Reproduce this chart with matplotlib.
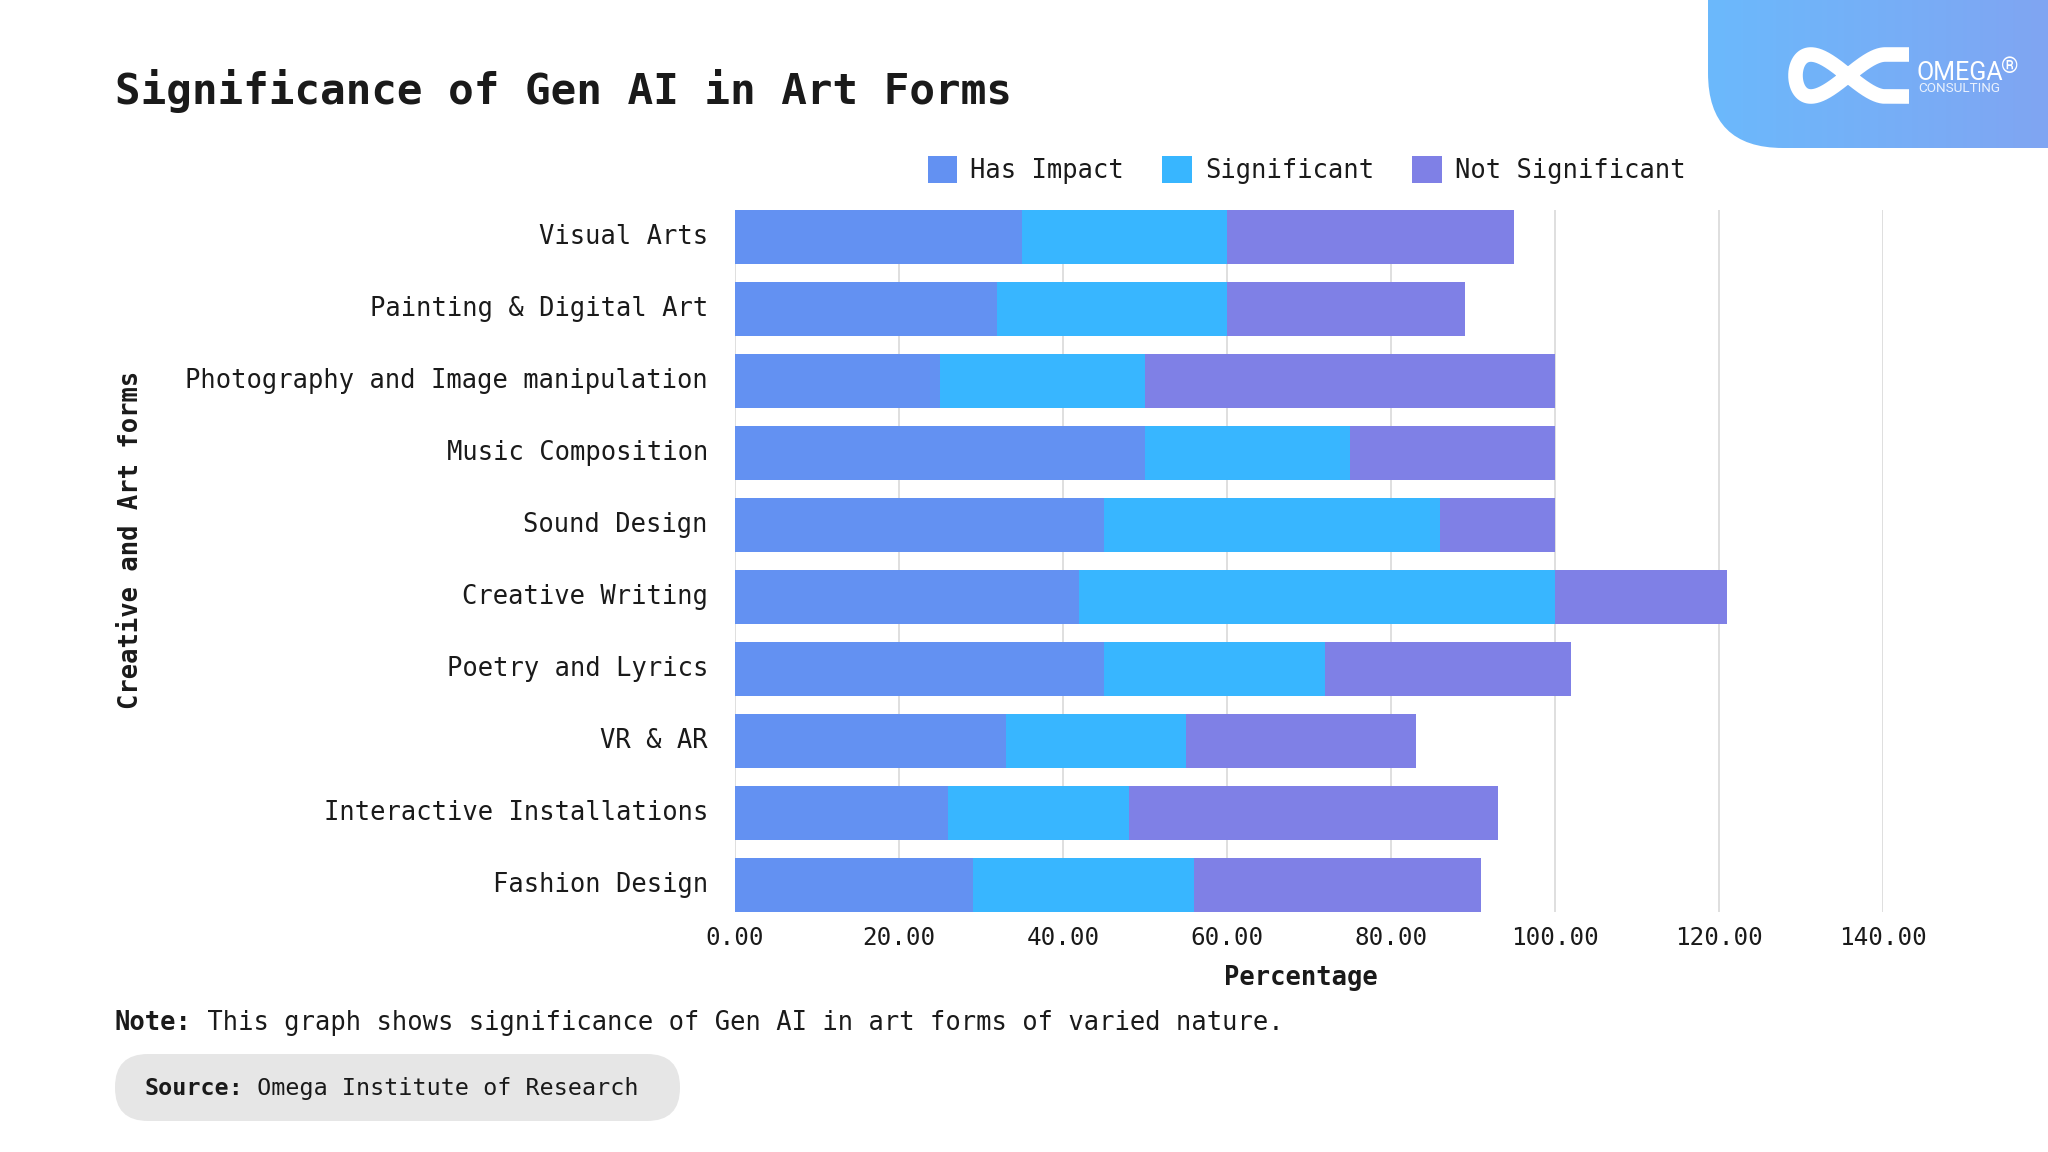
import numpy as np
import matplotlib
matplotlib.use("Agg")
import matplotlib.pyplot as plt
import matplotlib.transforms as mtransforms
from matplotlib.patches import FancyBboxPatch, Patch
from matplotlib.text import Annotation

# data
categories = [
    "Visual Arts",
    "Painting & Digital Art",
    "Photography and Image manipulation",
    "Music Composition",
    "Sound Design",
    "Creative Writing",
    "Poetry and Lyrics",
    "VR & AR",
    "Interactive Installations",
    "Fashion Design",
]
has_impact = [35, 32, 25, 50, 45, 42, 45, 33, 26, 29]
significant = [25, 28, 25, 25, 41, 58, 27, 22, 22, 27]
not_significant = [35, 29, 50, 25, 14, 21, 30, 28, 45, 35]
series_names = ["Has Impact", "Significant", "Not Significant"]
series_colors = ["#6391F2", "#38B6FF", "#7F80E6"]
x_ticks = [0, 20, 40, 60, 80, 100, 120, 140]

MONO = "DejaVu Sans Mono"
TXT = "#1a1a1a"
W, H = 2048, 1152

plt.rcParams["font.family"] = [MONO, "DejaVu Sans"]

fig = plt.figure(figsize=(20.48, 11.52), dpi=100)
fig.patch.set_facecolor("white")

# pixel-space overlay for decorations (logo, source pill)
deco = fig.add_axes([0, 0, 1, 1], zorder=0)
deco.axis("off")

# main chart
ax_l, ax_r, ax_t, ax_b = 735, 1883, 210, 912
ax = fig.add_axes([ax_l / W, 1 - ax_b / H, (ax_r - ax_l) / W, (ax_b - ax_t) / H], zorder=1)
ax.set_facecolor("none")
y = np.arange(len(categories))
series = [has_impact, significant, not_significant]
left = np.zeros(len(categories))
for vals, name, col in zip(series, series_names, series_colors):
    ax.barh(y, vals, left=left, height=0.743, color=col, label=name, zorder=2)
    left += np.array(vals)

ax.set_ylim(len(categories) - 1 + 0.372, -0.372)
ax.set_xlim(0, 140)
ax.set_xticks(x_ticks)
ax.set_xticklabels([f"{v:.2f}" for v in x_ticks], fontsize=17.5, color=TXT)
ax.set_yticks(y)
ax.set_yticklabels(categories, fontsize=18.4, color=TXT)
ax.tick_params(axis="both", length=0)
ax.tick_params(axis="y", pad=19.5)
ax.tick_params(axis="x", pad=10)
lift = mtransforms.ScaledTranslation(0, 2.0 / 72, fig.dpi_scale_trans)
for lab in ax.get_yticklabels():
    lab.set_transform(lab.get_transform() + lift)
ax.grid(axis="x", color="#D9D9D9", lw=1.2, zorder=0)
for s in ax.spines.values():
    s.set_visible(False)
ax.set_xlabel("Percentage", fontsize=18.4, fontweight="bold", color=TXT, labelpad=12)
ax.xaxis.set_label_coords((1301 - ax_l) / (ax_r - ax_l), -(978 - ax_b) / (ax_b - ax_t))
ax.xaxis.label.set_va("center")

# legend
handles = [Patch(facecolor=c, edgecolor="none") for c in series_colors]
fig.legend(handles, series_names, loc="center", bbox_to_anchor=(0.638, 1 - 170 / H),
           ncol=3, frameon=False, fontsize=18.4, handlelength=1.17, handleheight=1.25,
           handletextpad=0.5, columnspacing=1.5, labelcolor=TXT)

# title and axis label
fig.text(115 / W, 1 - 104 / H, "Significance of Gen AI in Art Forms", fontsize=30.7,
         fontweight="bold", color=TXT, va="baseline", ha="left")
fig.text(131 / W, 1 - 540 / H, "Creative and Art forms", rotation=90, fontsize=18.4,
         fontweight="bold", color=TXT, va="center", ha="center")

# note
note = fig.text(115 / W, 1 - 1030 / H, "Note:", fontsize=18.4, fontweight="bold",
                color=TXT, va="baseline")
note_rest = Annotation(" This graph shows significance of Gen AI in art forms of varied nature.",
                       xy=(1, 0), xycoords=note, va="bottom", ha="left",
                       fontsize=18.4, color=TXT)
note_rest.set_figure(fig)
fig.texts.append(note_rest)

# source pill
deco.add_patch(FancyBboxPatch((115, 1054), 565, 67,
                              boxstyle="round,pad=0,rounding_size=33",
                              facecolor="#E6E6E6", edgecolor="none"))
src = fig.text(144 / W, 1 - 1095 / H, "Source:", fontsize=16.8, fontweight="bold",
               color=TXT, va="baseline")
src_rest = Annotation(" Omega Institute of Research", xy=(1, 0), xycoords=src,
                      va="bottom", ha="left", fontsize=16.8, color=TXT)
src_rest.set_figure(fig)
fig.texts.append(src_rest)

# logo block, gradient with rounded bottom-left corner
grad = np.linspace(0, 1, 256)
c0 = np.array([107, 185, 252]) / 255
c1 = np.array([128, 165, 242]) / 255
img = (c0[None, :] * (1 - grad[:, None]) + c1[None, :] * grad[:, None])[None, :, :]
im = deco.imshow(img, extent=[1708, W, 148, 0], aspect="auto", zorder=1)
clip = FancyBboxPatch((1708, -200), 600, 348, boxstyle="round,pad=0,rounding_size=75",
                      facecolor="none", edgecolor="none")
deco.add_patch(clip)
im.set_clip_path(clip)
deco.set_xlim(0, W)
deco.set_ylim(H, 0)

# infinity mark: closed left loop, right side a "C" with flat arms
cx, cy, a, b, x_end = 1848, 75.5, 52.5, 21, 1909
t = np.linspace(np.pi / 4, 2 * np.pi - np.pi / 4, 400)
lx = np.concatenate([[x_end - cx], a * np.cos(t), [x_end - cx]])
ly = np.concatenate([[b], b * np.sin(2 * t), [-b]])
deco.plot(cx + lx, cy + ly, color="white", lw=10.5, solid_capstyle="butt",
          solid_joinstyle="round", zorder=3)
deco.text(1917, 80, "OMEGA", fontsize=18, color="white", family="Roboto",
          va="baseline", ha="left", zorder=3)
deco.text(2001, 73, "®", fontsize=16, color="white", family="Roboto",
          va="baseline", ha="left", zorder=3)
deco.text(1918, 92, "CONSULTING", fontsize=9.7, color="white", family="Roboto",
          alpha=0.85, va="baseline", ha="left", zorder=3)

fig.savefig("out.png", dpi=100, facecolor="white")
